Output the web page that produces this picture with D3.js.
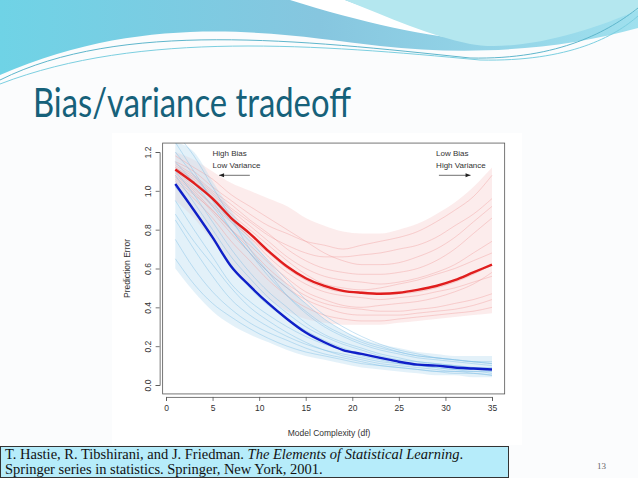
<!DOCTYPE html>
<html><head><meta charset="utf-8">
<script src="https://cdn.jsdelivr.net/npm/d3@7"></script>
<style>body{margin:0;background:#fff}svg{display:block}</style>
</head><body><svg id="s" width="638" height="478"></svg>
<script>
// data (df = 1,3,...,35)
const df = [1,3,5,7,9,11,13,15,17,19,21,23,25,27,29,31,33,35];
const testMean = [1.11,1.04,0.96,0.86,0.78,0.69,0.61,0.55,0.51,0.485,0.475,0.47,0.475,0.49,0.51,0.54,0.58,0.62];
const trainMean = [1.035,0.90,0.76,0.61,0.51,0.42,0.34,0.27,0.22,0.18,0.16,0.14,0.12,0.105,0.10,0.09,0.085,0.08];
const testRuns = [
  [1.15,1.10,1.02,0.95,0.88,0.82,0.78,0.74,0.72,0.70,0.72,0.74,0.76,0.79,0.84,0.90,0.97,1.08],
  [1.08,1.00,0.90,0.80,0.70,0.60,0.52,0.46,0.42,0.40,0.39,0.38,0.38,0.39,0.40,0.42,0.44,0.47],
  [1.12,1.06,0.98,0.90,0.82,0.74,0.66,0.60,0.56,0.54,0.53,0.52,0.53,0.55,0.58,0.62,0.68,0.74],
  [1.05,0.96,0.86,0.74,0.64,0.54,0.46,0.40,0.36,0.34,0.33,0.33,0.34,0.35,0.36,0.37,0.38,0.40],
  [1.18,1.12,1.06,0.98,0.92,0.86,0.80,0.74,0.68,0.64,0.62,0.62,0.63,0.66,0.70,0.76,0.84,0.92],
  [1.10,1.02,0.92,0.84,0.76,0.66,0.58,0.52,0.48,0.46,0.45,0.44,0.45,0.46,0.48,0.50,0.53,0.56],
  [1.14,1.08,1.00,0.93,0.85,0.78,0.70,0.64,0.60,0.58,0.57,0.57,0.58,0.60,0.64,0.70,0.78,0.86],
  [1.06,0.98,0.90,0.80,0.72,0.63,0.55,0.48,0.44,0.41,0.40,0.41,0.42,0.43,0.45,0.48,0.52,0.58],
  [1.12,1.05,0.97,0.88,0.80,0.72,0.64,0.57,0.52,0.50,0.49,0.50,0.52,0.54,0.57,0.60,0.64,0.68],
  [1.09,1.01,0.93,0.85,0.76,0.68,0.60,0.54,0.50,0.48,0.48,0.47,0.47,0.48,0.50,0.53,0.57,0.62],
  [1.13,1.07,0.99,0.91,0.84,0.77,0.72,0.68,0.66,0.66,0.67,0.68,0.70,0.72,0.76,0.82,0.88,0.96],
  [1.07,0.99,0.89,0.78,0.68,0.58,0.50,0.44,0.40,0.37,0.36,0.36,0.36,0.37,0.38,0.39,0.41,0.44]
];
const trainRuns = [
  [1.25,1.10,0.95,0.80,0.68,0.56,0.46,0.38,0.31,0.26,0.22,0.19,0.17,0.15,0.14,0.13,0.12,0.12],
  [0.85,0.70,0.56,0.44,0.36,0.30,0.25,0.21,0.18,0.15,0.13,0.11,0.10,0.09,0.08,0.07,0.07,0.06],
  [1.10,0.98,0.84,0.70,0.58,0.48,0.40,0.32,0.26,0.22,0.19,0.16,0.14,0.12,0.11,0.10,0.09,0.09],
  [0.95,0.80,0.66,0.52,0.43,0.36,0.30,0.25,0.21,0.18,0.15,0.13,0.11,0.10,0.09,0.08,0.08,0.07],
  [1.20,1.08,0.96,0.84,0.74,0.64,0.54,0.44,0.36,0.30,0.25,0.21,0.18,0.16,0.14,0.13,0.12,0.11],
  [0.65,0.52,0.42,0.35,0.29,0.24,0.20,0.17,0.15,0.13,0.11,0.10,0.09,0.08,0.07,0.06,0.06,0.05],
  [1.02,0.90,0.76,0.62,0.50,0.41,0.34,0.28,0.23,0.19,0.16,0.14,0.12,0.11,0.10,0.09,0.08,0.08],
  [0.88,0.74,0.62,0.50,0.40,0.33,0.27,0.22,0.18,0.16,0.14,0.12,0.11,0.10,0.09,0.08,0.07,0.07],
  [1.30,1.18,1.02,0.86,0.70,0.58,0.46,0.37,0.30,0.25,0.21,0.18,0.16,0.14,0.13,0.12,0.11,0.10],
  [1.08,0.94,0.80,0.66,0.55,0.45,0.37,0.30,0.25,0.21,0.18,0.15,0.13,0.12,0.11,0.10,0.09,0.08],
  [0.75,0.60,0.48,0.39,0.32,0.27,0.23,0.19,0.16,0.14,0.12,0.10,0.09,0.08,0.07,0.07,0.06,0.05],
  [1.15,1.04,0.92,0.80,0.68,0.58,0.50,0.42,0.34,0.28,0.23,0.20,0.17,0.15,0.14,0.13,0.12,0.11]
];
// envelopes of the bands of thin runs
const testLow  = [0.95,0.86,0.74,0.62,0.52,0.44,0.38,0.34,0.32,0.31,0.31,0.31,0.32,0.33,0.34,0.35,0.36,0.37];
const testHigh = [1.20,1.16,1.10,1.04,1.00,0.96,0.92,0.86,0.82,0.79,0.78,0.78,0.80,0.83,0.88,0.94,1.02,1.12];
const trainLow  = [0.60,0.48,0.38,0.31,0.26,0.22,0.18,0.15,0.13,0.11,0.09,0.08,0.07,0.06,0.05,0.05,0.04,0.04];
const trainHigh = [1.25,1.20,1.05,0.90,0.76,0.64,0.52,0.42,0.34,0.28,0.24,0.21,0.19,0.17,0.16,0.15,0.15,0.15];
const xTicks = [0,5,10,15,20,25,30,35];
const yTicks = [0,0.2,0.4,0.6,0.8,1.0,1.2];

const svg = d3.select('#s');

// ---- slide background / banner ----
const defs = svg.append('defs');
const g1 = defs.append('linearGradient').attr('id','gb').attr('x1','0').attr('x2','1');
g1.append('stop').attr('offset','0').attr('stop-color','#6fd3e6');
g1.append('stop').attr('offset','0.5').attr('stop-color','#86c6df');
g1.append('stop').attr('offset','1').attr('stop-color','#9fe0ee');
svg.append('rect').attr('width',638).attr('height',478).attr('fill','#fbfcfd');
svg.append('path').attr('fill','url(#gb)')
  .attr('d','M0,0 L638,0 L638,28 C560,50 470,56 380,46 C280,34 150,10 0,75 Z');
svg.append('path').attr('fill','#fff')
  .attr('d','M290,0 L345,0 C400,20 440,34 480,40 C430,38 360,22 290,0 Z');
svg.append('path').attr('fill','#b4e7ef')
  .attr('d','M345,0 L638,0 L638,10 C560,44 500,50 470,44 C430,36 390,18 345,0 Z');
svg.append('path').attr('fill','none').attr('stroke','#5fb6cc').attr('stroke-width',1)
  .attr('d','M0,80 C120,20 300,40 470,58 C560,60 610,30 638,8');
svg.append('path').attr('fill','none').attr('stroke','#7ccfe0').attr('stroke-width',1)
  .attr('d','M0,84 C140,30 320,45 480,60 C570,62 615,36 638,16');

svg.append('text').attr('x',33).attr('y',117).attr('font-family','Lato, sans-serif')
  .attr('font-size',40).attr('fill','#16617a').attr('textLength',318)
  .attr('lengthAdjust','spacingAndGlyphs').text('Bias/variance tradeoff');

// ---- chart ----
svg.append('rect').attr('x',112).attr('y',133).attr('width',410).attr('height',312).attr('fill','#fff');
const x = d3.scaleLinear().domain([0,35]).range([166,492]);
const y = d3.scaleLinear().domain([0,1.2]).range([385,152]);
const bx0 = x(-0.36), bx1 = x(36.36), by0 = y(1.246), by1 = y(-0.046);
defs.append('clipPath').attr('id','clip').append('rect')
  .attr('x',bx0).attr('y',by0).attr('width',bx1-bx0).attr('height',by1-by0);
const plot = svg.append('g').attr('clip-path','url(#clip)');
const line = d3.line().x((d,i)=>x(df[i])).y(d=>y(d)).curve(d3.curveMonotoneX);
const area = (lo,hi) => d3.area().x((d,i)=>x(df[i])).y0((d,i)=>y(lo[i])).y1(d=>y(d))
  .curve(d3.curveMonotoneX)(hi);

plot.append('path').attr('d',area(testLow,testHigh)).attr('fill','#f7c9c9').attr('opacity',0.35);
plot.append('path').attr('d',area(trainLow,trainHigh)).attr('fill','#b9dcf0').attr('opacity',0.4);
testRuns.forEach(r=>plot.append('path').attr('d',line(r)).attr('fill','none')
  .attr('stroke','#f19a9a').attr('stroke-opacity',0.5).attr('stroke-width',0.8));
trainRuns.forEach(r=>plot.append('path').attr('d',line(r)).attr('fill','none')
  .attr('stroke','#7fbfe6').attr('stroke-opacity',0.55).attr('stroke-width',0.8));
plot.append('path').attr('d',line(testMean)).attr('fill','none').attr('stroke','#e01e1e').attr('stroke-width',2.4);
plot.append('path').attr('d',line(trainMean)).attr('fill','none').attr('stroke','#1020c8').attr('stroke-width',2.4);

svg.append('rect').attr('x',bx0).attr('y',by0).attr('width',bx1-bx0).attr('height',by1-by0)
  .attr('fill','none').attr('stroke','#555').attr('stroke-width',0.8);

const ax = svg.append('g').attr('transform',`translate(0,${by1+3})`)
  .call(d3.axisBottom(x).tickValues(xTicks).tickSize(4).tickPadding(4));
const ay = svg.append('g').attr('transform',`translate(${bx0-3},0)`)
  .call(d3.axisLeft(y).tickValues(yTicks).tickFormat(d3.format('.1f')).tickSize(4).tickPadding(4));
[ax,ay].forEach(a=>{
  a.selectAll('path,line').attr('stroke','#555').attr('stroke-width',0.8);
  a.selectAll('text').attr('font-family','Liberation Sans, Arial').attr('font-size',8.5).attr('fill','#333');
});
ay.selectAll('.tick text').attr('transform','rotate(-90)').attr('x',0).attr('y',-9)
  .attr('text-anchor','middle').attr('dy','0');

svg.append('text').attr('x',(x(0)+x(35))/2).attr('y',436).attr('text-anchor','middle')
  .attr('font-family','Liberation Sans, Arial').attr('font-size',8.5).attr('fill','#333')
  .text('Model Complexity (df)');
svg.append('text').attr('transform',`translate(130,${y(0.6)}) rotate(-90)`).attr('text-anchor','middle')
  .attr('font-family','Liberation Sans, Arial').attr('font-size',8.5).attr('fill','#333')
  .text('Prediction Error');

const ann = (tx, t, yy) => svg.append('text').attr('x',x(tx)).attr('y',y(yy))
  .attr('font-family','Liberation Sans, Arial').attr('font-size',8).attr('fill','#333').text(t);
ann(5,'High Bias',1.18); ann(5,'Low Variance',1.12);
ann(29,'Low Bias',1.18); ann(29,'High Variance',1.12);
const arrow = (a,b) => {
  const yy = y(1.08), dir = Math.sign(b-a);
  svg.append('line').attr('x1',x(a)).attr('x2',x(b)).attr('y1',yy).attr('y2',yy).attr('stroke','#333').attr('stroke-width',0.7);
  svg.append('path').attr('d',`M${x(b)},${yy} l${-5*dir},-2 l0,4 Z`).attr('fill','#222');
};
arrow(9,5.7); arrow(29.3,32.7);

// ---- citation ----
svg.append('rect').attr('x',0.5).attr('y',446.5).attr('width',508).attr('height',31)
  .attr('fill','#b6ecfa').attr('stroke','#333').attr('stroke-width',1);
const cite = svg.append('text').attr('font-family','Liberation Serif, serif').attr('font-size',14.5).attr('fill','#111');
const l1 = cite.append('tspan').attr('x',5).attr('y',459);
l1.append('tspan').text('T. Hastie, R. Tibshirani, and J. Friedman. ');
l1.append('tspan').attr('font-style','italic').text('The Elements of Statistical Learning');
l1.append('tspan').text('.');
cite.append('tspan').attr('x',5).attr('y',474).text('Springer series in statistics. Springer, New York, 2001.');
svg.append('text').attr('x',597).attr('y',469).attr('font-family','Liberation Serif, serif')
  .attr('font-size',9).attr('fill','#666').text('13');
</script></body></html>
